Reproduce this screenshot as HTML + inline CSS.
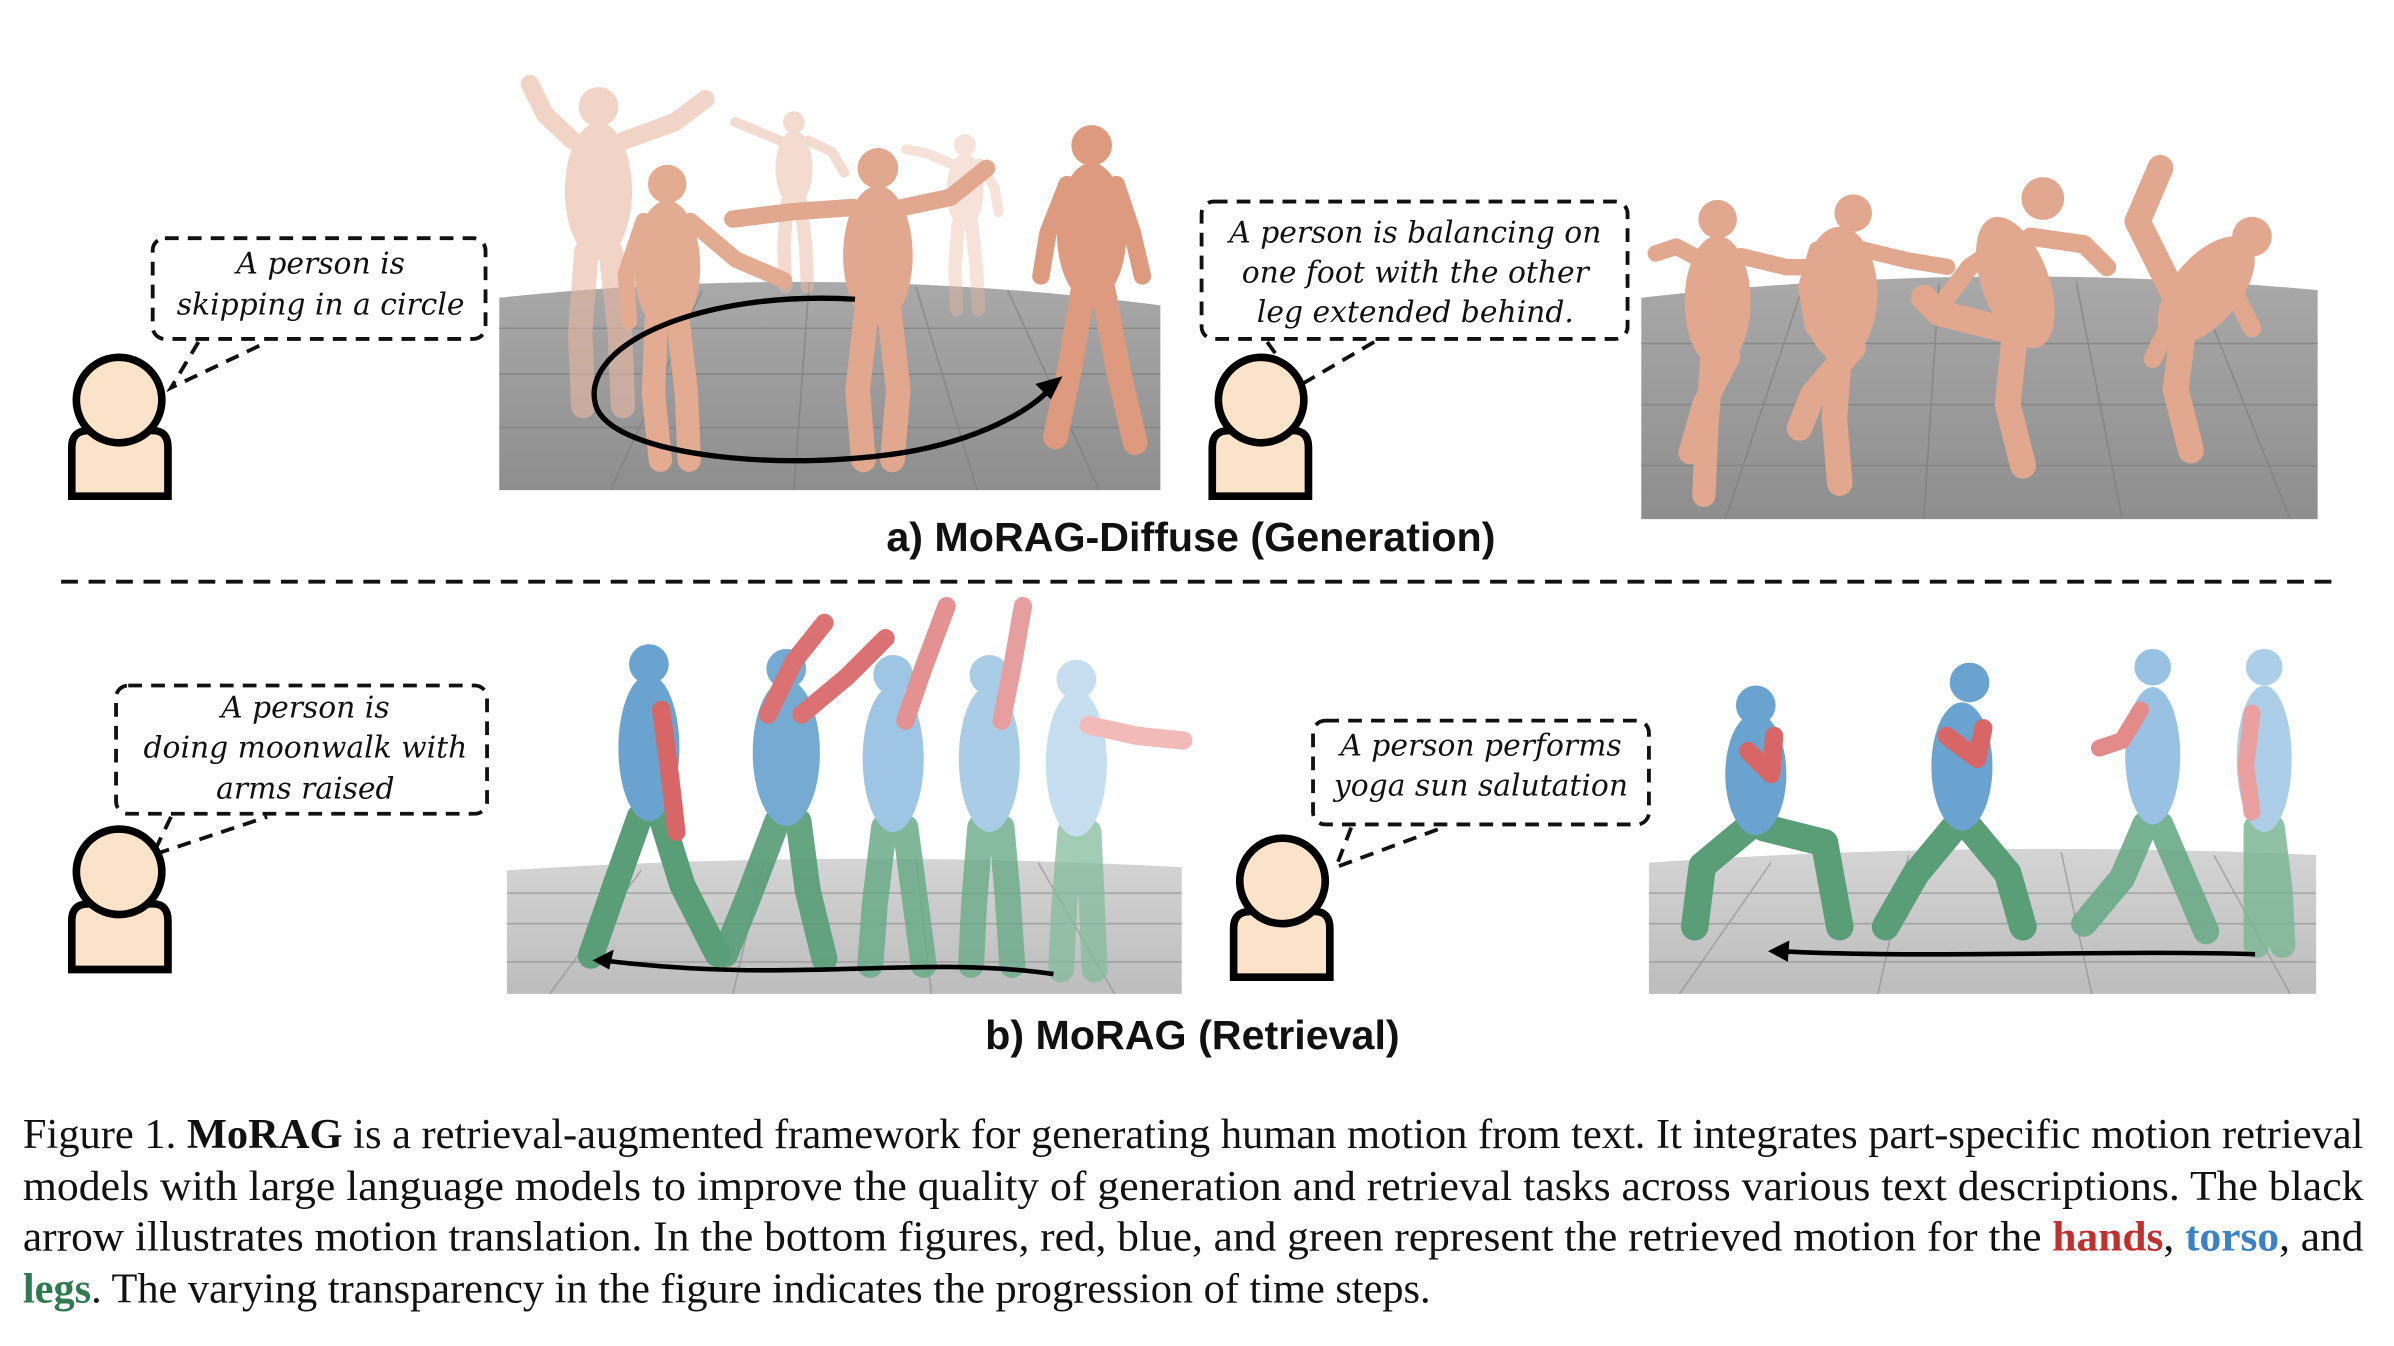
<!DOCTYPE html>
<html><head><meta charset="utf-8"><style>
html,body{margin:0;padding:0;background:#fff;}
svg{display:block;}
.bub{font-family:"DejaVu Serif","Liberation Serif",serif;font-style:italic;font-size:19.5px;fill:#111;}
.lab{font-family:"Liberation Sans","DejaVu Sans",sans-serif;font-weight:bold;font-size:27px;fill:#111;}
.cap{font-family:"Liberation Serif",serif;font-size:27.4px;fill:#111;}
</style></head><body>
<svg width="2394" height="1346" viewBox="0 0 1568 881.6" xmlns="http://www.w3.org/2000/svg">
<defs>
<linearGradient id="fl" x1="0" y1="0" x2="0" y2="1"><stop offset="0" stop-color="#a9a9a9"/><stop offset="1" stop-color="#8e8e8e"/></linearGradient>
<linearGradient id="fl2" x1="0" y1="0" x2="0" y2="1"><stop offset="0" stop-color="#d4d4d4"/><stop offset="1" stop-color="#bdbdbd"/></linearGradient>
</defs>

<!-- panel 1 -->
<path d="M327,195 Q543,172 760,200 L760,321 L327,321 Z" fill="url(#fl)"/>
<g stroke="#7a7a7a" stroke-width="1" opacity=".6" fill="none"><path d="M327,215 L760,215 M327,245 L760,245 M327,280 L760,280 M400,321 L460,190 M520,321 L530,185 M640,321 L600,188 M720,321 L660,190"/></g>

<g stroke-linecap="round" stroke-linejoin="round" fill="none">
<!-- faded figures top -->
<g transform="translate(392,270) scale(1)" opacity=".6" stroke="#eab8a3">
<path stroke-width="16" d="M-8,-105 L-12,-52 L-10,-4 M8,-105 L14,-52 L16,-4"/>
<path stroke-width="12" d="M-17,-178 L-35,-195 L-45,-215 M17,-178 L50,-190 L70,-205"/>
<ellipse cx="0" cy="-145" rx="22" ry="45" fill="#eab8a3" stroke="none"/><circle cx="0" cy="-200" r="13" fill="#eab8a3" stroke="none"/></g>
<g transform="translate(520,190) scale(0.55)" opacity=".5" stroke="#eab8a3">
<path stroke-width="16" d="M-8,-105 L-12,-52 L-10,-4 M8,-105 L14,-52 L16,-4"/>
<path stroke-width="12" d="M-17,-178 L-45,-190 L-70,-200 M17,-178 L45,-165 L60,-140"/>
<ellipse cx="0" cy="-145" rx="22" ry="45" fill="#eab8a3" stroke="none"/><circle cx="0" cy="-200" r="13" fill="#eab8a3" stroke="none"/></g>
<g transform="translate(632,205) scale(0.55)" opacity=".4" stroke="#eab8a3">
<path stroke-width="16" d="M-8,-105 L-12,-52 L-10,-4 M8,-105 L14,-52 L16,-4"/>
<path stroke-width="12" d="M-17,-178 L-45,-190 L-70,-195 M17,-178 L35,-150 L40,-120"/>
<ellipse cx="0" cy="-145" rx="22" ry="45" fill="#eab8a3" stroke="none"/><circle cx="0" cy="-200" r="13" fill="#eab8a3" stroke="none"/></g>
<g transform="translate(437,305) scale(0.9)" stroke="#e4ab93">
<path stroke-width="17" d="M-8,-105 L-10,-52 L-5,-4 M8,-105 L14,-52 L16,-4"/>
<path stroke-width="12" d="M-17,-178 L-30,-140 L-28,-105 M17,-178 L50,-150 L85,-135"/>
<ellipse cx="0" cy="-145" rx="24" ry="48" fill="#e4ab93" stroke="none"/><circle cx="0" cy="-205" r="14" fill="#e4ab93" stroke="none"/></g>
<g transform="translate(575,305) scale(0.95)" stroke="#e2a78f">
<path stroke-width="17" d="M-8,-105 L-14,-52 L-10,-4 M8,-105 L14,-52 L10,-4"/>
<path stroke-width="12" d="M-17,-178 L-60,-175 L-100,-170 M17,-178 L50,-185 L75,-205"/>
<ellipse cx="0" cy="-145" rx="24" ry="48" fill="#e2a78f" stroke="none"/><circle cx="0" cy="-205" r="14" fill="#e2a78f" stroke="none"/></g>
<g transform="translate(715,290) scale(0.95)" stroke="#dd9a7f">
<path stroke-width="17" d="M-6,-105 L-15,-52 L-25,-4 M8,-105 L18,-52 L30,0"/>
<path stroke-width="12" d="M-17,-178 L-30,-145 L-35,-115 M17,-178 L28,-145 L35,-115"/>
<ellipse cx="0" cy="-145" rx="24" ry="48" fill="#dd9a7f" stroke="none"/><circle cx="0" cy="-205" r="14" fill="#dd9a7f" stroke="none"/></g>
</g>
<path d="M560,196 C460,190 380,225 390,265 C400,300 520,310 600,295 C650,285 680,265 690,252" fill="none" stroke="#000" stroke-width="3.5"/>
<path d="M694,248 L680,252 L688,260 Z" fill="#000" stroke="#000" stroke-width="2"/>

<!-- panel 2 -->
<path d="M1075,195 Q1296,170 1518,190 L1518,340 L1075,340 Z" fill="url(#fl)"/>
<g stroke="#7a7a7a" stroke-width="1" opacity=".6" fill="none"><path d="M1075,225 L1518,225 M1075,265 L1518,265 M1075,305 L1518,305 M1130,340 L1180,190 M1260,340 L1270,185 M1390,340 L1360,185 M1500,340 L1440,190"/></g>
<g stroke-linecap="round" stroke-linejoin="round" fill="none" stroke="#e2a78f">
<g transform="translate(1125,328) scale(0.9)">
<path stroke-width="17" d="M-4,-105 L-8,-52 L-10,-4 M8,-105 L-10,-70 L-20,-35"/>
<path stroke-width="12" d="M-17,-178 L-30,-185 L-45,-180 M17,-178 L50,-170 L80,-170"/>
<ellipse cx="0" cy="-145" rx="24" ry="48" fill="#e2a78f" stroke="none"/><circle cx="0" cy="-205" r="14" fill="#e2a78f" stroke="none"/></g>
<g transform="translate(1205,320) scale(0.88)">
<path stroke-width="19" d="M0,-105 L-4,-52 L0,-4 M10,-105 L-20,-70 L-30,-45"/>
<path stroke-width="12" d="M-17,-178 L-25,-150 L-20,-120 M17,-178 L50,-170 L80,-165"/>
<ellipse cx="0" cy="-145" rx="28" ry="50" fill="#e2a78f" stroke="none"/><circle cx="10" cy="-205" r="14" fill="#e2a78f" stroke="none"/></g>
<g transform="translate(1320,305)">
<path stroke-width="17" d="M0,-90 L-5,-40 L5,0 M-10,-90 L-50,-100 L-60,-110"/>
<path stroke-width="12" d="M10,-150 L45,-145 L60,-130 M0,-150 L-30,-130 L-45,-110"/>
<ellipse cx="0" cy="-120" rx="22" ry="45" fill="#e2a78f" stroke="none" transform="rotate(-20,0,-120)"/><circle cx="18" cy="-175" r="14" fill="#e2a78f" stroke="none"/></g>
<g transform="translate(1430,295)">
<path stroke-width="17" d="M0,-80 L-5,-40 L5,0 M-5,-100 L-30,-150 L-15,-185"/>
<path stroke-width="12" d="M20,-120 L35,-100 L45,-80 M10,-110 L-10,-80 L-20,-60"/>
<ellipse cx="15" cy="-105" rx="22" ry="42" fill="#e2a78f" stroke="none" transform="rotate(40,15,-105)"/><circle cx="45" cy="-140" r="13" fill="#e2a78f" stroke="none"/></g>
</g>

<!-- labels -->
<text class="lab" x="780" y="361" text-anchor="middle">a) MoRAG-Diffuse (Generation)</text>
<line x1="40" y1="381" x2="1527" y2="381" stroke="#111" stroke-width="2.5" stroke-dasharray="11,7"/>

<!-- panel 3 -->
<path d="M332,570 Q553,556 774,568 L774,651 L332,651 Z" fill="url(#fl2)"/>
<g stroke="#888" stroke-width="1" opacity=".6" fill="none"><path d="M332,585 L774,585 M332,605 L774,605 M332,630 L774,630 M360,651 L420,570 M480,651 L500,565 M610,651 L600,563 M730,651 L680,565"/></g>
<g stroke-linecap="round" stroke-linejoin="round" fill="none">
<g transform="translate(425,630)">
<path stroke="#5a9e78" stroke-width="17" d="M-6,-95 L-22,-50 L-38,-4 M8,-95 L22,-50 L45,-5"/>
<ellipse cx="0" cy="-140" rx="20" ry="48" fill="#6aa3cf"/><circle cx="0" cy="-195" r="13" fill="#6aa3cf"/>
<path stroke="#d86667" stroke-width="12" d="M8,-165 L14,-120 L18,-85"/></g>
<g transform="translate(515,633)" opacity=".92">
<path stroke="#5a9e78" stroke-width="17" d="M-6,-95 L-25,-45 L-40,-8 M8,-95 L14,-50 L25,-5"/>
<ellipse cx="0" cy="-140" rx="22" ry="48" fill="#6aa3cf"/><circle cx="0" cy="-195" r="13" fill="#6aa3cf"/>
<path stroke="#d86667" stroke-width="12" d="M-12,-165 L5,-200 L25,-225 M10,-165 L40,-190 L65,-215"/></g>
<g transform="translate(585,637)" opacity=".85">
<path stroke="#6aab88" stroke-width="17" d="M-6,-95 L-12,-45 L-15,-5 M8,-95 L14,-50 L20,-5"/>
<ellipse cx="0" cy="-140" rx="20" ry="48" fill="#8fbbe0"/><circle cx="0" cy="-195" r="13" fill="#8fbbe0"/>
<path stroke="#e07e7e" stroke-width="12" d="M8,-165 L20,-200 L35,-240"/></g>
<g transform="translate(648,637)" opacity=".8">
<path stroke="#6aab88" stroke-width="17" d="M-6,-95 L-10,-45 L-12,-5 M8,-95 L12,-50 L15,-5"/>
<ellipse cx="0" cy="-140" rx="20" ry="48" fill="#96c1e2"/><circle cx="0" cy="-195" r="13" fill="#96c1e2"/>
<path stroke="#e08686" stroke-width="12" d="M8,-165 L15,-200 L22,-240"/></g>
<g transform="translate(705,640)" opacity=".75">
<path stroke="#84bb9c" stroke-width="17" d="M-4,-95 L-8,-45 L-10,-5 M8,-95 L10,-50 L12,-5"/>
<ellipse cx="0" cy="-140" rx="20" ry="48" fill="#b4d3ea"/><circle cx="0" cy="-195" r="13" fill="#b4d3ea"/>
<path stroke="#efa3a3" stroke-width="12" d="M8,-165 L40,-158 L70,-155"/></g>
</g>
<path d="M690,638 C600,625 520,645 395,629" fill="none" stroke="#000" stroke-width="3"/>
<path d="M388,629 L402,622 L399,635 Z" fill="#000"/>

<!-- panel 4 -->
<path d="M1080,565 Q1298,550 1517,560 L1517,651 L1080,651 Z" fill="url(#fl2)"/>
<g stroke="#888" stroke-width="1" opacity=".6" fill="none"><path d="M1080,585 L1517,585 M1080,605 L1517,605 M1080,630 L1517,630 M1100,651 L1160,565 M1230,651 L1250,560 M1370,651 L1350,558 M1500,651 L1450,560"/></g>
<g stroke-linecap="round" stroke-linejoin="round" fill="none">
<g transform="translate(1150,612)">
<path stroke="#5a9e78" stroke-width="18" d="M-5,-70 L-35,-45 L-40,-5 M5,-70 L45,-60 L55,-5"/>
<ellipse cx="0" cy="-105" rx="20" ry="40" fill="#6aa3cf"/><circle cx="0" cy="-150" r="13" fill="#6aa3cf"/>
<path stroke="#d86667" stroke-width="12" d="M12,-130 L10,-105 L-5,-120"/></g>
<g transform="translate(1285,612)">
<path stroke="#5a9e78" stroke-width="18" d="M-5,-70 L-30,-40 L-50,-5 M5,-70 L30,-40 L40,-5"/>
<ellipse cx="0" cy="-110" rx="20" ry="42" fill="#6aa3cf"/><circle cx="5" cy="-165" r="13" fill="#6aa3cf"/>
<path stroke="#d86667" stroke-width="12" d="M14,-135 L10,-115 L-10,-130"/></g>
<g transform="translate(1410,615)" opacity=".9">
<path stroke="#6aab88" stroke-width="17" d="M-5,-75 L-20,-40 L-45,-10 M5,-75 L20,-40 L35,-5"/>
<ellipse cx="0" cy="-120" rx="18" ry="45" fill="#8fbbe0"/><circle cx="0" cy="-178" r="12" fill="#8fbbe0"/>
<path stroke="#e07e7e" stroke-width="11" d="M-8,-150 L-20,-130 L-35,-125"/></g>
<g transform="translate(1483,622)" opacity=".85">
<path stroke="#7eb796" stroke-width="17" d="M-5,-80 L-5,-40 L-5,-3 M5,-80 L10,-40 L12,-3"/>
<ellipse cx="0" cy="-125" rx="18" ry="48" fill="#9fc6e4"/><circle cx="0" cy="-185" r="12" fill="#9fc6e4"/>
<path stroke="#e89090" stroke-width="11" d="M-8,-155 L-12,-120 L-8,-90"/></g>
</g>
<path d="M1477,625 C1380,622 1260,628 1165,623" fill="none" stroke="#000" stroke-width="3"/>
<path d="M1158,623 L1172,616 L1171,630 Z" fill="#000"/>

<text class="lab" x="781" y="687" text-anchor="middle">b) MoRAG (Retrieval)</text>

<!-- bubbles -->
<g fill="#fff" stroke="#111" stroke-width="2.5" stroke-dasharray="9,6">
<rect x="100" y="156" width="218" height="66" rx="8"/>
<rect x="787" y="132" width="279" height="90" rx="8"/>
<rect x="76" y="449" width="243" height="84" rx="8"/>
<rect x="860" y="472" width="220" height="68" rx="8"/>
</g>
<g stroke="#111" stroke-width="2.5" stroke-dasharray="9,6" fill="none">
<path d="M130,224 L112,254 L175,224"/>
<path d="M830,224 L840,238 M900,224 L852,252"/>
<path d="M112,535 L100,560 L175,535"/>
<path d="M885,542 L875,568 L945,542"/>
</g>
<g class="bub" text-anchor="middle">
<text x="210" y="179">A person is</text><text x="210" y="206">skipping in a circle</text>
<text x="927" y="159">A person is balancing on</text><text x="927" y="185">one foot with the other</text><text x="927" y="211">leg extended behind.</text>
<text x="200" y="470">A person is</text><text x="200" y="496">doing moonwalk with</text><text x="200" y="523">arms raised</text>
<text x="970" y="495">A person performs</text><text x="970" y="521">yoga sun salutation</text>
</g>

<!-- people -->
<g fill="#fbe3c9" stroke="#000" stroke-width="5">
<path d="M47,325 L47,293 Q47,282 58,282 L100,282 Q110,282 110,293 L110,325 Z"/><circle cx="78" cy="262" r="28"/>
<path d="M794,325 L794,293 Q794,282 805,282 L847,282 Q857,282 857,293 L857,325 Z"/><circle cx="826" cy="262" r="28"/>
<path d="M47,635 L47,603 Q47,592 58,592 L100,592 Q110,592 110,603 L110,635 Z"/><circle cx="78" cy="571" r="28"/>
<path d="M808,640 L808,608 Q808,597 819,597 L861,597 Q871,597 871,608 L871,640 Z"/><circle cx="840" cy="577" r="28"/>
</g>

<!-- caption -->
<g class="cap">
<text x="15" y="752" textLength="1533" lengthAdjust="spacingAndGlyphs">Figure 1. <tspan font-weight="bold">MoRAG</tspan> is a retrieval-augmented framework for generating human motion from text. It integrates part-specific motion retrieval</text>
<text x="15" y="786" textLength="1533" lengthAdjust="spacingAndGlyphs">models with large language models to improve the quality of generation and retrieval tasks across various text descriptions.  The black</text>
<text x="15" y="819" textLength="1533" lengthAdjust="spacingAndGlyphs">arrow illustrates motion translation.  In the bottom figures, red, blue, and green represent the retrieved motion for the <tspan font-weight="bold" fill="#c0302f">hands</tspan>, <tspan font-weight="bold" fill="#3b82c4">torso</tspan>, and</text>
<text x="15" y="853" textLength="922" lengthAdjust="spacingAndGlyphs"><tspan font-weight="bold" fill="#2f7a4f">legs</tspan>. The varying transparency in the figure indicates the progression of time steps.</text>
</g>
</svg>
</body></html>
